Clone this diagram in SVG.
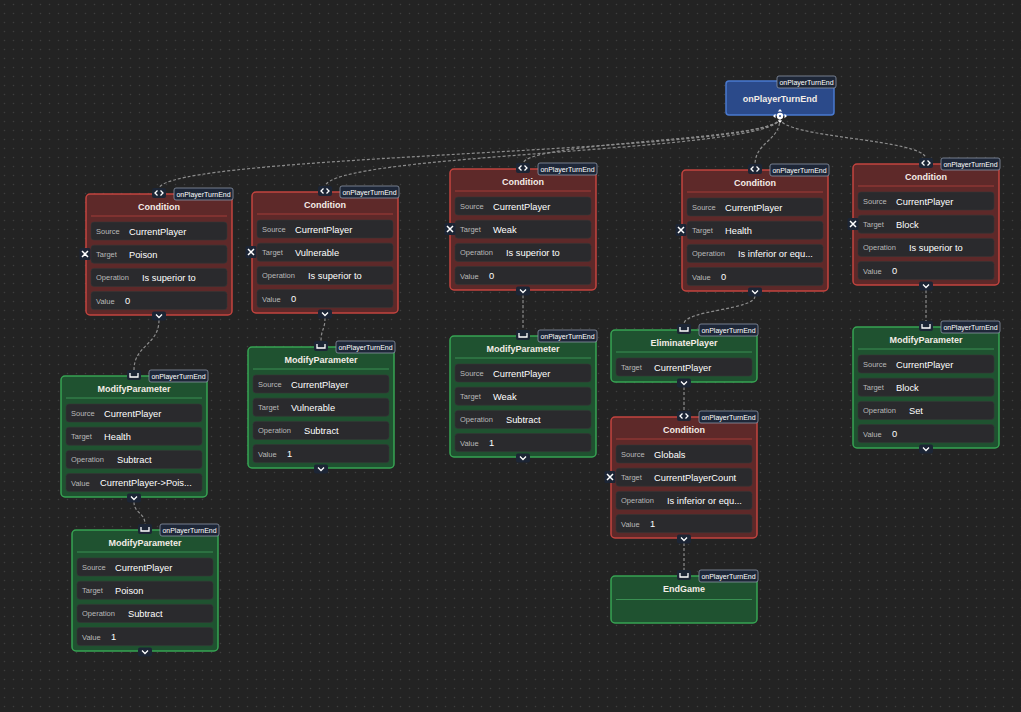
<svg xmlns="http://www.w3.org/2000/svg" xmlns:xlink="http://www.w3.org/1999/xlink" width="1021" height="712" viewBox="0 0 1021 712">
<defs>
<pattern id="dots" width="9" height="9" patternUnits="userSpaceOnUse"><circle cx="4.5" cy="4.5" r="0.75" fill="#3e3e3e"/></pattern>
<g id="hIn"><rect x="-7" y="-5" width="14" height="10" rx="2" fill="#1c2535"/><polyline points="-1.5,-2.5 -4,0 -1.5,2.5" fill="none" stroke="#fff" stroke-width="1.3"/><polyline points="1.5,-2.5 4,0 1.5,2.5" fill="none" stroke="#fff" stroke-width="1.3"/></g>
<g id="hBr"><rect x="-7" y="-5" width="14" height="10" rx="2" fill="#1c2535"/><path d="M-4,-2 V2 H4 V-2" fill="none" stroke="#fff" stroke-width="1.3"/></g>
<g id="hOut"><rect x="-7" y="-4.5" width="14" height="9" rx="2" fill="#1c2535"/><polyline points="-3,-1.5 0,1.5 3,-1.5" fill="none" stroke="#fff" stroke-width="1.3"/></g>
<g id="xm"><rect x="-5.5" y="-6" width="11" height="12" rx="1.5" fill="#1c2535"/><path d="M-3,-3 L3,3 M3,-3 L-3,3" stroke="#fff" stroke-width="1.5"/></g>
<g id="tag"><rect x="88" y="-6" width="59" height="12" rx="2" fill="#1e2738" stroke="#8a94a6" stroke-width="0.8"/><text x="117.5" y="2.5" class="tg">onPlayerTurnEnd</text></g>
</defs>
<style>
text{font-family:"Liberation Sans",Arial,sans-serif}
.red{fill:#5e2929;stroke:#c4443f;stroke-width:1.5}
.grn{fill:#1f5230;stroke:#37a453;stroke-width:1.5}
.sepR{stroke:#a23c38;stroke-width:1}
.sepG{stroke:#3a8f52;stroke-width:1}
.row{fill:#2a2a2d;stroke:#363638;stroke-width:0.6}
.ti{font-size:9px;font-weight:bold;fill:#f3ece6;text-anchor:middle}
.lb{font-size:7.5px;fill:#b9b9b9}
.vl{font-size:9.3px;fill:#ffffff}
.tg{font-size:7px;fill:#ffffff;text-anchor:middle}
.edge{fill:none;stroke:#8c8c8c;stroke-width:1.2;stroke-dasharray:3 2}
</style>
<rect width="1021" height="712" fill="#232323"/>
<rect width="1021" height="712" fill="url(#dots)"/>

<g id="connectors">
<path class="edge" d="M780,118 C780,153.5 159,153.5 159,189"/>
<path class="edge" d="M780,118 C780,152.5 325,152.5 325,187"/>
<path class="edge" d="M780,118 C780,141 523,141 523,164"/>
<path class="edge" d="M780,118 C780,141.5 755,141.5 755,165"/>
<path class="edge" d="M780,118 C780,138.5 926,138.5 926,159"/>
<path class="edge" d="M159,320 C159,345 134,345 134,370"/>
<path class="edge" d="M325,318 C325,329.5 321,329.5 321,341"/>
<path class="edge" d="M523,295 C523,312.5 523,312.5 523,330"/>
<path class="edge" d="M755,296 C755,310 684,310 684,324"/>
<path class="edge" d="M926,290 C926,305.5 926,305.5 926,321"/>
<path class="edge" d="M134,502 C134,513 145,513 145,524"/>
<path class="edge" d="M684,387 C684,399 684,399 684,411"/>
<path class="edge" d="M684,543 C684,556.5 684,556.5 684,570"/>
</g>

<g id="start" transform="translate(726,81)">
<rect width="108" height="34" rx="3" fill="#2b4a8a" stroke="#4a7ad0" stroke-width="1.5"/>
<text x="54" y="20.5" class="ti">onPlayerTurnEnd</text>
<rect x="51" y="-5" width="59" height="12" rx="2" fill="#1e2738" stroke="#8a94a6" stroke-width="0.8"/>
<text x="80.5" y="3.5" class="tg">onPlayerTurnEnd</text>
<g transform="translate(54,35)"><circle r="3.2" fill="#fff"/><path d="M0,-7 L-2.2,-4.5 H2.2 Z M0,7 L-2.2,4.5 H2.2 Z M-7,0 L-4.5,-2.2 V2.2 Z M7,0 L4.5,-2.2 V2.2 Z" fill="#fff"/><circle r="1" fill="#2b4a8a"/></g>
</g>

<g id="cond1" transform="translate(86,194)">
<rect width="146" height="121" rx="4" class="red"/>
<text x="73" y="15.5" class="ti">Condition</text><line x1="5" y1="22" x2="141" y2="22" class="sepR"/>
<rect x="5" y="28" width="136" height="18" rx="3" class="row"/><text x="10" y="40" class="lb">Source</text><text x="43" y="40.5" class="vl">CurrentPlayer</text>
<rect x="5" y="51.2" width="136" height="18" rx="3" class="row"/><text x="10" y="63.2" class="lb">Target</text><text x="43" y="63.7" class="vl">Poison</text>
<rect x="5" y="74.4" width="136" height="18" rx="3" class="row"/><text x="10" y="86.4" class="lb">Operation</text><text x="56" y="86.9" class="vl">Is superior to</text>
<rect x="5" y="97.6" width="136" height="18" rx="3" class="row"/><text x="10" y="109.6" class="lb">Value</text><text x="39" y="110.1" class="vl">0</text>
<use href="#hIn" x="73" y="-1"/><use href="#hOut" x="73" y="122"/><use href="#xm" x="-1" y="60"/><use href="#tag"/>
</g>

<g id="cond2" transform="translate(252,192)">
<rect width="146" height="121" rx="4" class="red"/>
<text x="73" y="15.5" class="ti">Condition</text><line x1="5" y1="22" x2="141" y2="22" class="sepR"/>
<rect x="5" y="28" width="136" height="18" rx="3" class="row"/><text x="10" y="40" class="lb">Source</text><text x="43" y="40.5" class="vl">CurrentPlayer</text>
<rect x="5" y="51.2" width="136" height="18" rx="3" class="row"/><text x="10" y="63.2" class="lb">Target</text><text x="43" y="63.7" class="vl">Vulnerable</text>
<rect x="5" y="74.4" width="136" height="18" rx="3" class="row"/><text x="10" y="86.4" class="lb">Operation</text><text x="56" y="86.9" class="vl">Is superior to</text>
<rect x="5" y="97.6" width="136" height="18" rx="3" class="row"/><text x="10" y="109.6" class="lb">Value</text><text x="39" y="110.1" class="vl">0</text>
<use href="#hIn" x="73" y="-1"/><use href="#hOut" x="73" y="122"/><use href="#xm" x="-1" y="60"/><use href="#tag"/>
</g>

<g id="cond3" transform="translate(450,169)">
<rect width="146" height="121" rx="4" class="red"/>
<text x="73" y="15.5" class="ti">Condition</text><line x1="5" y1="22" x2="141" y2="22" class="sepR"/>
<rect x="5" y="28" width="136" height="18" rx="3" class="row"/><text x="10" y="40" class="lb">Source</text><text x="43" y="40.5" class="vl">CurrentPlayer</text>
<rect x="5" y="51.2" width="136" height="18" rx="3" class="row"/><text x="10" y="63.2" class="lb">Target</text><text x="43" y="63.7" class="vl">Weak</text>
<rect x="5" y="74.4" width="136" height="18" rx="3" class="row"/><text x="10" y="86.4" class="lb">Operation</text><text x="56" y="86.9" class="vl">Is superior to</text>
<rect x="5" y="97.6" width="136" height="18" rx="3" class="row"/><text x="10" y="109.6" class="lb">Value</text><text x="39" y="110.1" class="vl">0</text>
<use href="#hIn" x="73" y="-1"/><use href="#hOut" x="73" y="122"/><use href="#xm" x="0" y="60"/><use href="#tag"/>
</g>

<g id="cond4" transform="translate(682,170)">
<rect width="146" height="121" rx="4" class="red"/>
<text x="73" y="15.5" class="ti">Condition</text><line x1="5" y1="22" x2="141" y2="22" class="sepR"/>
<rect x="5" y="28" width="136" height="18" rx="3" class="row"/><text x="10" y="40" class="lb">Source</text><text x="43" y="40.5" class="vl">CurrentPlayer</text>
<rect x="5" y="51.2" width="136" height="18" rx="3" class="row"/><text x="10" y="63.2" class="lb">Target</text><text x="43" y="63.7" class="vl">Health</text>
<rect x="5" y="74.4" width="136" height="18" rx="3" class="row"/><text x="10" y="86.4" class="lb">Operation</text><text x="56" y="86.9" class="vl">Is inferior or equ...</text>
<rect x="5" y="97.6" width="136" height="18" rx="3" class="row"/><text x="10" y="109.6" class="lb">Value</text><text x="39" y="110.1" class="vl">0</text>
<use href="#hIn" x="73" y="-1"/><use href="#hOut" x="73" y="122"/><use href="#xm" x="-1" y="60"/><use href="#tag"/>
</g>

<g id="cond5" transform="translate(853,164)">
<rect width="146" height="121" rx="4" class="red"/>
<text x="73" y="15.5" class="ti">Condition</text><line x1="5" y1="22" x2="141" y2="22" class="sepR"/>
<rect x="5" y="28" width="136" height="18" rx="3" class="row"/><text x="10" y="40" class="lb">Source</text><text x="43" y="40.5" class="vl">CurrentPlayer</text>
<rect x="5" y="51.2" width="136" height="18" rx="3" class="row"/><text x="10" y="63.2" class="lb">Target</text><text x="43" y="63.7" class="vl">Block</text>
<rect x="5" y="74.4" width="136" height="18" rx="3" class="row"/><text x="10" y="86.4" class="lb">Operation</text><text x="56" y="86.9" class="vl">Is superior to</text>
<rect x="5" y="97.6" width="136" height="18" rx="3" class="row"/><text x="10" y="109.6" class="lb">Value</text><text x="39" y="110.1" class="vl">0</text>
<use href="#hIn" x="73" y="-1"/><use href="#hOut" x="73" y="122"/><use href="#xm" x="0" y="60"/><use href="#tag"/>
</g>

<g id="cond6" transform="translate(611,417)">
<rect width="146" height="121" rx="4" class="red"/>
<text x="73" y="15.5" class="ti">Condition</text><line x1="5" y1="22" x2="141" y2="22" class="sepR"/>
<rect x="5" y="28" width="136" height="18" rx="3" class="row"/><text x="10" y="40" class="lb">Source</text><text x="43" y="40.5" class="vl">Globals</text>
<rect x="5" y="51.2" width="136" height="18" rx="3" class="row"/><text x="10" y="63.2" class="lb">Target</text><text x="43" y="63.7" class="vl">CurrentPlayerCount</text>
<rect x="5" y="74.4" width="136" height="18" rx="3" class="row"/><text x="10" y="86.4" class="lb">Operation</text><text x="56" y="86.9" class="vl">Is inferior or equ...</text>
<rect x="5" y="97.6" width="136" height="18" rx="3" class="row"/><text x="10" y="109.6" class="lb">Value</text><text x="39" y="110.1" class="vl">1</text>
<use href="#hIn" x="73" y="-1"/><use href="#hOut" x="73" y="122"/><use href="#xm" x="-1" y="60"/><use href="#tag"/>
</g>

<g id="mod1" transform="translate(61,376)">
<rect width="146" height="121" rx="4" class="grn"/>
<text x="73" y="15.5" class="ti">ModifyParameter</text><line x1="5" y1="22" x2="141" y2="22" class="sepG"/>
<rect x="5" y="28" width="136" height="18" rx="3" class="row"/><text x="10" y="40" class="lb">Source</text><text x="43" y="40.5" class="vl">CurrentPlayer</text>
<rect x="5" y="51.2" width="136" height="18" rx="3" class="row"/><text x="10" y="63.2" class="lb">Target</text><text x="43" y="63.7" class="vl">Health</text>
<rect x="5" y="74.4" width="136" height="18" rx="3" class="row"/><text x="10" y="86.4" class="lb">Operation</text><text x="56" y="86.9" class="vl">Subtract</text>
<rect x="5" y="97.6" width="136" height="18" rx="3" class="row"/><text x="10" y="109.6" class="lb">Value</text><text x="39" y="110.1" class="vl">CurrentPlayer-&gt;Pois...</text>
<use href="#hBr" x="73" y="-1"/><use href="#hOut" x="73" y="122"/><use href="#tag"/>
</g>

<g id="mod2" transform="translate(248,347)">
<rect width="146" height="121" rx="4" class="grn"/>
<text x="73" y="15.5" class="ti">ModifyParameter</text><line x1="5" y1="22" x2="141" y2="22" class="sepG"/>
<rect x="5" y="28" width="136" height="18" rx="3" class="row"/><text x="10" y="40" class="lb">Source</text><text x="43" y="40.5" class="vl">CurrentPlayer</text>
<rect x="5" y="51.2" width="136" height="18" rx="3" class="row"/><text x="10" y="63.2" class="lb">Target</text><text x="43" y="63.7" class="vl">Vulnerable</text>
<rect x="5" y="74.4" width="136" height="18" rx="3" class="row"/><text x="10" y="86.4" class="lb">Operation</text><text x="56" y="86.9" class="vl">Subtract</text>
<rect x="5" y="97.6" width="136" height="18" rx="3" class="row"/><text x="10" y="109.6" class="lb">Value</text><text x="39" y="110.1" class="vl">1</text>
<use href="#hBr" x="73" y="-1"/><use href="#hOut" x="73" y="122"/><use href="#tag"/>
</g>

<g id="mod3" transform="translate(450,336)">
<rect width="146" height="121" rx="4" class="grn"/>
<text x="73" y="15.5" class="ti">ModifyParameter</text><line x1="5" y1="22" x2="141" y2="22" class="sepG"/>
<rect x="5" y="28" width="136" height="18" rx="3" class="row"/><text x="10" y="40" class="lb">Source</text><text x="43" y="40.5" class="vl">CurrentPlayer</text>
<rect x="5" y="51.2" width="136" height="18" rx="3" class="row"/><text x="10" y="63.2" class="lb">Target</text><text x="43" y="63.7" class="vl">Weak</text>
<rect x="5" y="74.4" width="136" height="18" rx="3" class="row"/><text x="10" y="86.4" class="lb">Operation</text><text x="56" y="86.9" class="vl">Subtract</text>
<rect x="5" y="97.6" width="136" height="18" rx="3" class="row"/><text x="10" y="109.6" class="lb">Value</text><text x="39" y="110.1" class="vl">1</text>
<use href="#hBr" x="73" y="-1"/><use href="#hOut" x="73" y="122"/><use href="#tag"/>
</g>

<g id="mod4" transform="translate(853,327)">
<rect width="146" height="121" rx="4" class="grn"/>
<text x="73" y="15.5" class="ti">ModifyParameter</text><line x1="5" y1="22" x2="141" y2="22" class="sepG"/>
<rect x="5" y="28" width="136" height="18" rx="3" class="row"/><text x="10" y="40" class="lb">Source</text><text x="43" y="40.5" class="vl">CurrentPlayer</text>
<rect x="5" y="51.2" width="136" height="18" rx="3" class="row"/><text x="10" y="63.2" class="lb">Target</text><text x="43" y="63.7" class="vl">Block</text>
<rect x="5" y="74.4" width="136" height="18" rx="3" class="row"/><text x="10" y="86.4" class="lb">Operation</text><text x="56" y="86.9" class="vl">Set</text>
<rect x="5" y="97.6" width="136" height="18" rx="3" class="row"/><text x="10" y="109.6" class="lb">Value</text><text x="39" y="110.1" class="vl">0</text>
<use href="#hBr" x="73" y="-1"/><use href="#hOut" x="73" y="122"/><use href="#tag"/>
</g>

<g id="mod5" transform="translate(72,530)">
<rect width="146" height="121" rx="4" class="grn"/>
<text x="73" y="15.5" class="ti">ModifyParameter</text><line x1="5" y1="22" x2="141" y2="22" class="sepG"/>
<rect x="5" y="28" width="136" height="18" rx="3" class="row"/><text x="10" y="40" class="lb">Source</text><text x="43" y="40.5" class="vl">CurrentPlayer</text>
<rect x="5" y="51.2" width="136" height="18" rx="3" class="row"/><text x="10" y="63.2" class="lb">Target</text><text x="43" y="63.7" class="vl">Poison</text>
<rect x="5" y="74.4" width="136" height="18" rx="3" class="row"/><text x="10" y="86.4" class="lb">Operation</text><text x="56" y="86.9" class="vl">Subtract</text>
<rect x="5" y="97.6" width="136" height="18" rx="3" class="row"/><text x="10" y="109.6" class="lb">Value</text><text x="39" y="110.1" class="vl">1</text>
<use href="#hBr" x="73" y="-1"/><use href="#hOut" x="73" y="122"/><use href="#tag"/>
</g>

<g id="eliminate" transform="translate(611,330)">
<rect width="146" height="52" rx="4" class="grn"/>
<text x="73" y="15.5" class="ti">EliminatePlayer</text><line x1="5" y1="22" x2="141" y2="22" class="sepG"/>
<rect x="5" y="28" width="136" height="18" rx="3" class="row"/><text x="10" y="40" class="lb">Target</text><text x="43" y="40.5" class="vl">CurrentPlayer</text>
<use href="#hBr" x="73" y="-1"/><use href="#hOut" x="73" y="53"/><use href="#tag"/>
</g>

<g id="endgame" transform="translate(611,576)">
<rect width="146" height="47" rx="4" class="grn"/>
<text x="73" y="16" class="ti">EndGame</text><line x1="5" y1="23.5" x2="141" y2="23.5" class="sepG"/>
<use href="#hBr" x="73" y="-1"/><use href="#tag"/>
</g>
</svg>
